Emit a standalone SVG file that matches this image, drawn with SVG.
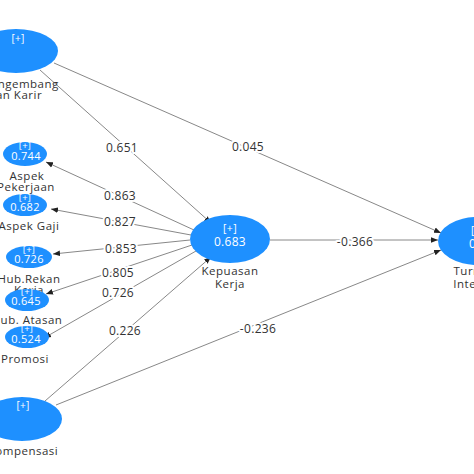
<svg xmlns="http://www.w3.org/2000/svg" width="474" height="474" viewBox="0 0 474 474">
<defs>
<marker id="ah" viewBox="0 0 10 10" refX="10" refY="5" markerWidth="7" markerHeight="7" orient="auto" markerUnits="userSpaceOnUse"><path d="M0,1 L10,5 L0,9 z" fill="#222"/></marker>
</defs>
<style>
.n{fill:#1E90FF}
.w{font-family:"Open Sans","Noto Sans",sans-serif;fill:#fff;text-anchor:middle;letter-spacing:0.3px}
.t{font-family:"Open Sans","Noto Sans",sans-serif;fill:#333;font-size:11.5px;text-anchor:middle;letter-spacing:0.5px}
.e{stroke:#888;stroke-width:1;fill:none;marker-end:url(#ah)}
.l{font-family:"Open Sans","Noto Sans",sans-serif;fill:#333;font-size:12px;text-anchor:middle;letter-spacing:0.3px;stroke:#fff;stroke-width:4px;paint-order:stroke;stroke-linejoin:round}
</style>
<rect width="474" height="474" fill="#fff"/>
<g id="connectors">
<line class="e" x1="40" y1="70" x2="211" y2="223"/>
<line class="e" x1="54" y1="63" x2="441" y2="233"/>
<line class="e" x1="194" y1="230" x2="46" y2="162"/>
<line class="e" x1="191" y1="235" x2="51" y2="209"/>
<line class="e" x1="190" y1="240" x2="53" y2="254"/>
<line class="e" x1="192" y1="245" x2="46" y2="294"/>
<line class="e" x1="196" y1="251" x2="44" y2="338"/>
<line class="e" x1="45" y1="401" x2="211" y2="257"/>
<line class="e" x1="56" y1="405" x2="441" y2="250"/>
<line class="e" x1="270" y1="240" x2="438" y2="240"/>
<text class="l" x="122" y="152">0.651</text>
<text class="l" x="248" y="151">0.045</text>
<text class="l" x="120" y="200">0.863</text>
<text class="l" x="120" y="226">0.827</text>
<text class="l" x="121" y="253">0.853</text>
<text class="l" x="118" y="277">0.805</text>
<text class="l" x="118" y="297">0.726</text>
<text class="l" x="125" y="335">0.226</text>
<text class="l" x="258" y="333">-0.236</text>
<text class="l" x="355" y="246">-0.366</text>
</g>
<g id="pengembangan">
<ellipse class="n" cx="16" cy="51" rx="42" ry="22"/>
<text class="w" x="18" y="42" font-size="10">[+]</text>
<text class="t" x="21" y="88">Pengembang</text>
<text class="t" x="19" y="99">an Karir</text>
</g>
<g id="aspek-pekerjaan">
<ellipse class="n" cx="25" cy="154" rx="22" ry="12"/>
<text class="w" x="25" y="149" font-size="9.5">[+]</text>
<text class="w" x="26" y="160" font-size="11">0.744</text>
<text class="t" x="27" y="180">Aspek</text>
<text class="t" x="26" y="191">Pekerjaan</text>
</g>
<g id="aspek-gaji">
<ellipse class="n" cx="25" cy="205" rx="22" ry="11"/>
<text class="w" x="25" y="201" font-size="9.5">[+]</text>
<text class="w" x="25" y="211" font-size="11">0.682</text>
<text class="t" x="29" y="230">Aspek Gaji</text>
</g>
<g id="hub-rekan">
<ellipse class="n" cx="29" cy="257" rx="23" ry="11"/>
<text class="w" x="29" y="253" font-size="9.5">[+]</text>
<text class="w" x="29" y="263" font-size="11">0.726</text>
<text class="t" x="29" y="283">Hub.Rekan</text>
<text class="t" x="29" y="294">Kerja</text>
</g>
<g id="hub-atasan">
<ellipse class="n" cx="27" cy="300" rx="22" ry="11"/>
<text class="w" x="27" y="295" font-size="9.5">[+]</text>
<text class="w" x="26" y="305" font-size="11">0.645</text>
<text class="t" x="27" y="324">Hub. Atasan</text>
</g>
<g id="promosi">
<ellipse class="n" cx="27" cy="337" rx="22" ry="11"/>
<text class="w" x="27" y="332" font-size="9.5">[+]</text>
<text class="w" x="26" y="343" font-size="11">0.524</text>
<text class="t" x="25" y="363">Promosi</text>
</g>
<g id="kompensasi">
<ellipse class="n" cx="22" cy="419" rx="40" ry="22"/>
<text class="w" x="23" y="409" font-size="10">[+]</text>
<text class="t" x="23" y="455">Kompensasi</text>
</g>
<g id="kepuasan-kerja">
<ellipse class="n" cx="230" cy="239" rx="40" ry="24"/>
<text class="w" x="230" y="232" font-size="10.5">[+]</text>
<text class="w" x="230" y="246" font-size="12">0.683</text>
<text class="t" x="230" y="275">Kepuasan</text>
<text class="t" x="230" y="288">Kerja</text>
</g>
<g id="turnover">
<ellipse class="n" cx="478" cy="241" rx="40" ry="24"/>
<text class="w" x="478" y="234" font-size="10.5">[+]</text>
<text class="w" x="478" y="248" font-size="12">0.2</text>
<text class="t" x="480" y="275">Turnover</text>
<text class="t" x="480" y="288">Intention</text>
</g>
</svg>
